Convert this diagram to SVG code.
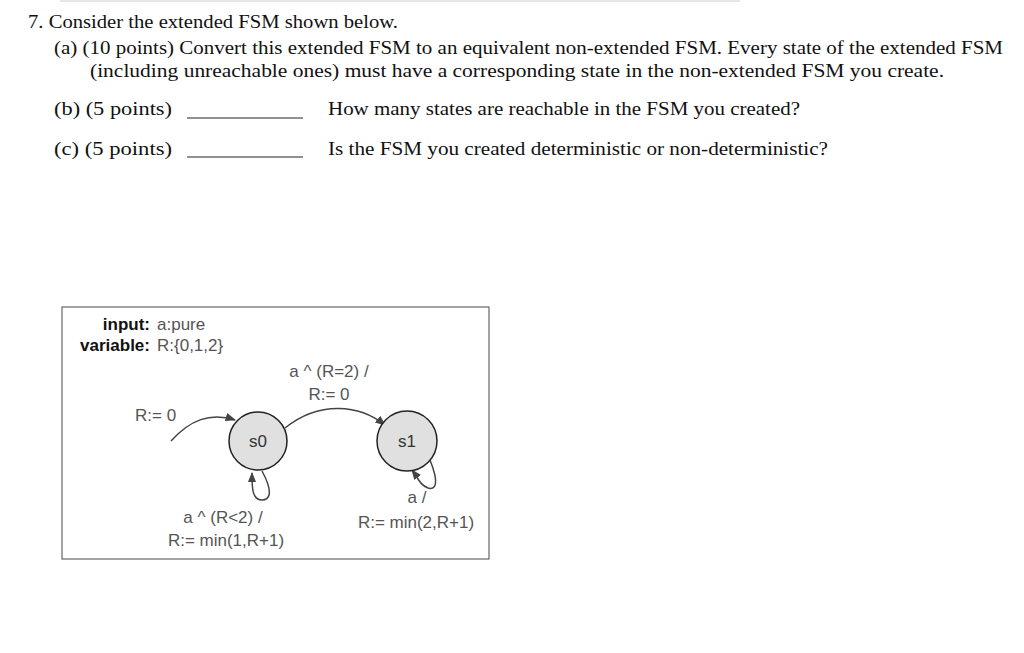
<svg xmlns="http://www.w3.org/2000/svg" width="1024" height="653" viewBox="0 0 1024 653">
<style>
.q{font-family:"Liberation Serif",serif;font-size:18px;fill:#111}
.d{font-family:"Liberation Sans",sans-serif;font-size:17px;fill:#555}
.b{font-weight:bold;fill:#111}
.st{fill:#e0e0e0;stroke:#222;stroke-width:1.5}
.e{fill:none;stroke:#444;stroke-width:1.5}
</style>
<defs><marker id="ar" viewBox="0 0 10 10" refX="9" refY="5" markerWidth="7" markerHeight="7" orient="auto"><path d="M0,1 L10,5 L0,9 z" fill="#444"/></marker></defs>
<rect width="1024" height="653" fill="#fff"/>
<line x1="60" y1="1" x2="740" y2="1" stroke="#ccc" stroke-width="1"/>
<g id="question">
<text class="q" x="28" y="28" textLength="370" lengthAdjust="spacingAndGlyphs">7. Consider the extended FSM shown below.</text>
<text class="q" x="54" y="54" textLength="949" lengthAdjust="spacingAndGlyphs">(a) (10 points) Convert this extended FSM to an equivalent non-extended FSM. Every state of the extended FSM</text>
<text class="q" x="90" y="77" textLength="854" lengthAdjust="spacingAndGlyphs">(including unreachable ones) must have a corresponding state in the non-extended FSM you create.</text>
<text class="q" x="54" y="115" textLength="118" lengthAdjust="spacingAndGlyphs">(b) (5 points)</text>
<line x1="187" y1="118" x2="303" y2="118" stroke="#222" stroke-width="1"/>
<text class="q" x="328" y="115" textLength="472" lengthAdjust="spacingAndGlyphs">How many states are reachable in the FSM you created?</text>
<text class="q" x="54" y="155" textLength="118" lengthAdjust="spacingAndGlyphs">(c) (5 points)</text>
<line x1="187" y1="157" x2="303" y2="157" stroke="#222" stroke-width="1"/>
<text class="q" x="328" y="155" textLength="500" lengthAdjust="spacingAndGlyphs">Is the FSM you created deterministic or non-deterministic?</text>
</g>
<rect x="62" y="307" width="427" height="252" fill="none" stroke="#666" stroke-width="1.2"/>
<g id="decl">
<text class="d b" x="150" y="330" text-anchor="end">input:</text><text class="d" x="157" y="330">a:pure</text>
<text class="d b" x="150" y="351" text-anchor="end">variable:</text><text class="d" x="157" y="351">R:{0,1,2}</text>
</g>
<g id="connectors">
<path class="e" d="M171,441 C190,420 210,412 235,420" marker-end="url(#ar)"/>
<path class="e" d="M285,428 C320,400 360,405 385,425" marker-end="url(#ar)"/>
<path class="e" d="M262,471 C275,495 268,500 262,500 C252,500 252,488 252,473" marker-end="url(#ar)"/>
<path class="e" d="M430,460 C440,485 435,490 428,488 C420,485 418,478 412,470" marker-end="url(#ar)"/>
<text class="d" x="135" y="421">R:= 0</text>
<text class="d" x="329" y="377" text-anchor="middle">a ^ (R=2) /</text>
<text class="d" x="329" y="400" text-anchor="middle">R:= 0</text>
<text class="d" x="223" y="523" text-anchor="middle">a ^ (R&lt;2) /</text>
<text class="d" x="226" y="546" text-anchor="middle">R:= min(1,R+1)</text>
<text class="d" x="417" y="503" text-anchor="middle">a /</text>
<text class="d" x="416" y="528" text-anchor="middle">R:= min(2,R+1)</text>
</g>
<g id="s0"><circle class="st" cx="258" cy="441" r="29"/><text class="d" x="258" y="447" text-anchor="middle" style="fill:#333">s0</text></g>
<g id="s1"><circle class="st" cx="407" cy="441" r="30"/><text class="d" x="407" y="447" text-anchor="middle" style="fill:#333">s1</text></g>
</svg>
